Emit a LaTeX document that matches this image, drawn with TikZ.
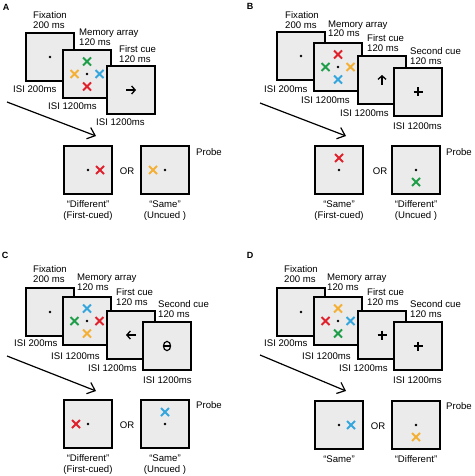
\documentclass[tikz,border=0pt]{standalone}
\usepackage{fontspec}
\setmainfont{Liberation Sans}
\usetikzlibrary{arrows.meta}
\definecolor{boxgray}{HTML}{EBEBEB}
\definecolor{xred}{HTML}{E0202B}
\definecolor{xgreen}{HTML}{1F9E4A}
\definecolor{xblue}{HTML}{33A6DE}
\definecolor{xyellow}{HTML}{F4B035}
\newcommand{\crossmk}[3]{\draw[#3,line width=2.1pt] (#1-4,#2-4) -- (#1+4,#2+4) (#1-4,#2+4) -- (#1+4,#2-4);}
\newcommand{\dotmk}[2]{\fill[black] (#1,#2) circle[radius=1.3pt];}
\newcommand{\plusmk}[2]{\draw[black,line width=1.1pt] (#1-4.5,#2) -- (#1+4.5,#2) (#1,#2-4.5) -- (#1,#2+4.5);}
\begin{document}
\begin{tikzpicture}[x=1pt,y=-1pt,
  scr/.style={draw=black,fill=boxgray,line width=1.2pt,minimum size=48pt,inner sep=0pt},
  lbl/.style={anchor=base west,inner sep=0pt,font=\fontsize{9.6}{11}\selectfont},
  clbl/.style={anchor=base,inner sep=0pt,font=\fontsize{9.6}{11}\selectfont},
  panel/.style={anchor=center,inner sep=0pt,font=\fontsize{9}{10}\selectfont\bfseries},
  bigarrow/.style={draw=black,line width=1.2pt,-{Straight Barb[length=7pt,width=12pt,line width=1.2pt]}},
  cuearrow/.style={draw=black,line width=1.3pt,-{Straight Barb[length=3.5pt,width=8pt,line width=1.3pt]}}]
\useasboundingbox (0,0) rectangle (474,476);
\fill[white] (0,0) rectangle (474,476);

% ================= Panel A =================
\node[panel] (pA) at (6,7.5) {A};
\node[lbl] (fixA1) at (33,18.5) {Fixation};
\node[lbl] (fixA2) at (33,28.5) {200 ms};
\node[lbl] (memA1) at (79,35.5) {Memory array};
\node[lbl] (memA2) at (79,45.5) {120 ms};
\node[lbl] (cueA1) at (119,52.5) {First cue};
\node[lbl] (cueA2) at (119,62.5) {120 ms};
\node[scr] (fA) at (50,57) {};
\dotmk{50}{57}
\node[scr] (mA) at (87,74) {};
\dotmk{87}{74}
\crossmk{87}{61.5}{xgreen}
\crossmk{74.5}{74}{xyellow}
\crossmk{99.5}{74}{xblue}
\crossmk{87}{86.5}{xred}
\node[scr] (cA) at (131,90) {};
\draw[cuearrow] (126,90) -- (136,90);
\node[lbl] (isiA1) at (13,92.5) {ISI 200ms};
\node[lbl] (isiA2) at (48,109.5) {ISI 1200ms};
\node[lbl] (isiA3) at (96,125.5) {ISI 1200ms};
\coordinate (asA) at (7,102);
\coordinate (aeA) at (96,136);
\draw[bigarrow] (asA) -- (aeA);
\node[scr] (p1A) at (88,170) {};
\dotmk{88}{170}
\crossmk{100}{170}{xred}
\node[clbl] (orA) at (127,174.5) {OR};
\node[scr] (p2A) at (165,170) {};
\crossmk{153}{170}{xyellow}
\dotmk{165}{170}
\node[lbl] (probeA) at (196,155.5) {Probe};
\node[clbl] (l1A) at (88,207.5) {“Different”};
\node[clbl] (l2A) at (88,218.5) {(First-cued)};
\node[clbl] (l3A) at (165,207.5) {“Same”};
\node[clbl] (l4A) at (165,218.5) {(Uncued )};

% ================= Panel B =================
\node[panel] (pB) at (250,6.5) {B};
\node[lbl] (fixB1) at (285,18.5) {Fixation};
\node[lbl] (fixB2) at (285,28.5) {200 ms};
\node[lbl] (memB1) at (328,27.5) {Memory array};
\node[lbl] (memB2) at (328,36.5) {120 ms};
\node[lbl] (cueB1) at (367,41.5) {First cue};
\node[lbl] (cueB2) at (367,51.5) {120 ms};
\node[lbl] (scB1) at (410,54.5) {Second cue};
\node[lbl] (scB2) at (410,64.5) {120 ms};
\node[scr] (fB) at (301,56) {};
\dotmk{301}{56}
\node[scr] (mB) at (338,67) {};
\dotmk{338}{67}
\crossmk{338}{54.5}{xred}
\crossmk{325.5}{67}{xgreen}
\crossmk{350.5}{67}{xyellow}
\crossmk{338}{79.5}{xblue}
\node[scr] (cB) at (382,80) {};
\draw[cuearrow] (382,85) -- (382,75);
\node[scr] (sB) at (418,92) {};
\plusmk{418}{92}
\node[lbl] (isiB1) at (264,92.5) {ISI 200ms};
\node[lbl] (isiB2) at (301,103.5) {ISI 1200ms};
\node[lbl] (isiB3) at (340,116.5) {ISI 1200ms};
\node[lbl] (isiB4) at (393,129.5) {ISI 1200ms};
\coordinate (asB) at (260,103);
\coordinate (aeB) at (346,136);
\draw[bigarrow] (asB) -- (aeB);
\node[scr] (p1B) at (339,170) {};
\crossmk{339}{158}{xred}
\dotmk{339}{170}
\node[clbl] (orB) at (380,174.5) {OR};
\node[scr] (p2B) at (416,170) {};
\dotmk{416}{170}
\crossmk{416}{182}{xgreen}
\node[lbl] (probeB) at (446,155.5) {Probe};
\node[clbl] (l1B) at (339,207.5) {“Same”};
\node[clbl] (l2B) at (339,218.5) {(First-cued)};
\node[clbl] (l3B) at (416,207.5) {“Different”};
\node[clbl] (l4B) at (416,218.5) {(Uncued )};

% ================= Panel C =================
\node[panel] (pC) at (5,255) {C};
\node[lbl] (fixC1) at (33,272.5) {Fixation};
\node[lbl] (fixC2) at (33,282.5) {200 ms};
\node[lbl] (memC1) at (77,280.5) {Memory array};
\node[lbl] (memC2) at (77,290.5) {120 ms};
\node[lbl] (cueC1) at (116,295.5) {First cue};
\node[lbl] (cueC2) at (116,305.5) {120 ms};
\node[lbl] (scC1) at (158,307.5) {Second cue};
\node[lbl] (scC2) at (158,317.5) {120 ms};
\node[scr] (fC) at (50,312) {};
\dotmk{50}{312}
\node[scr] (mC) at (87,321) {};
\dotmk{87}{321}
\crossmk{87}{308.5}{xblue}
\crossmk{74.5}{321}{xgreen}
\crossmk{99.5}{321}{xred}
\crossmk{87}{333.5}{xyellow}
\node[scr] (cC) at (131,335) {};
\draw[cuearrow] (136,335) -- (126,335);
\node[scr] (sC) at (167,346) {};
\draw[black,line width=1.2pt] (167,346) ellipse[x radius=3.6pt,y radius=4.6pt];
\draw[black,line width=1.1pt] (163.4,346) -- (170.6,346);
\node[lbl] (isiC1) at (14,346.5) {ISI 200ms};
\node[lbl] (isiC2) at (51,359.5) {ISI 1200ms};
\node[lbl] (isiC3) at (88,371.5) {ISI 1200ms};
\node[lbl] (isiC4) at (143,383.5) {ISI 1200ms};
\coordinate (asC) at (7,356);
\coordinate (aeC) at (96,391);
\draw[bigarrow] (asC) -- (aeC);
\node[scr] (p1C) at (88,424) {};
\crossmk{76}{424}{xred}
\dotmk{88}{424}
\node[clbl] (orC) at (127,428.5) {OR};
\node[scr] (p2C) at (165,424) {};
\crossmk{165}{412}{xblue}
\dotmk{165}{424}
\node[lbl] (probeC) at (196,408.5) {Probe};
\node[clbl] (l1C) at (88,461.5) {“Different”};
\node[clbl] (l2C) at (88,472) {(First-cued)};
\node[clbl] (l3C) at (165,461.5) {“Same”};
\node[clbl] (l4C) at (165,472) {(Uncued )};

% ================= Panel D =================
\node[panel] (pD) at (250,255) {D};
\node[lbl] (fixD1) at (284,272.5) {Fixation};
\node[lbl] (fixD2) at (284,282.5) {200 ms};
\node[lbl] (memD1) at (327,280.5) {Memory array};
\node[lbl] (memD2) at (327,290.5) {120 ms};
\node[lbl] (cueD1) at (367,295.5) {First cue};
\node[lbl] (cueD2) at (367,305.5) {120 ms};
\node[lbl] (scD1) at (410,307.5) {Second cue};
\node[lbl] (scD2) at (410,317.5) {120 ms};
\node[scr] (fD) at (301,312) {};
\dotmk{301}{312}
\node[scr] (mD) at (338,321) {};
\dotmk{338}{321}
\crossmk{338}{308.5}{xyellow}
\crossmk{325.5}{321}{xred}
\crossmk{350.5}{321}{xblue}
\crossmk{338}{333.5}{xgreen}
\node[scr] (cD) at (382,335) {};
\plusmk{382}{335}
\node[scr] (sD) at (418,346) {};
\plusmk{418}{346}
\node[lbl] (isiD1) at (264,346.5) {ISI 200ms};
\node[lbl] (isiD2) at (302,359.5) {ISI 1200ms};
\node[lbl] (isiD3) at (339,371.5) {ISI 1200ms};
\node[lbl] (isiD4) at (393,383.5) {ISI 1200ms};
\coordinate (asD) at (260,355);
\coordinate (aeD) at (346,391);
\draw[bigarrow] (asD) -- (aeD);
\node[scr] (p1D) at (339,425) {};
\dotmk{339}{425}
\crossmk{351}{425}{xblue}
\node[clbl] (orD) at (378,429.5) {OR};
\node[scr] (p2D) at (416,425) {};
\dotmk{416}{425}
\crossmk{416}{437}{xyellow}
\node[lbl] (probeD) at (446,409.5) {Probe};
\node[clbl] (l1D) at (339,462.5) {“Same”};
\node[clbl] (l3D) at (416,462.5) {“Different”};
\end{tikzpicture}
\end{document}
